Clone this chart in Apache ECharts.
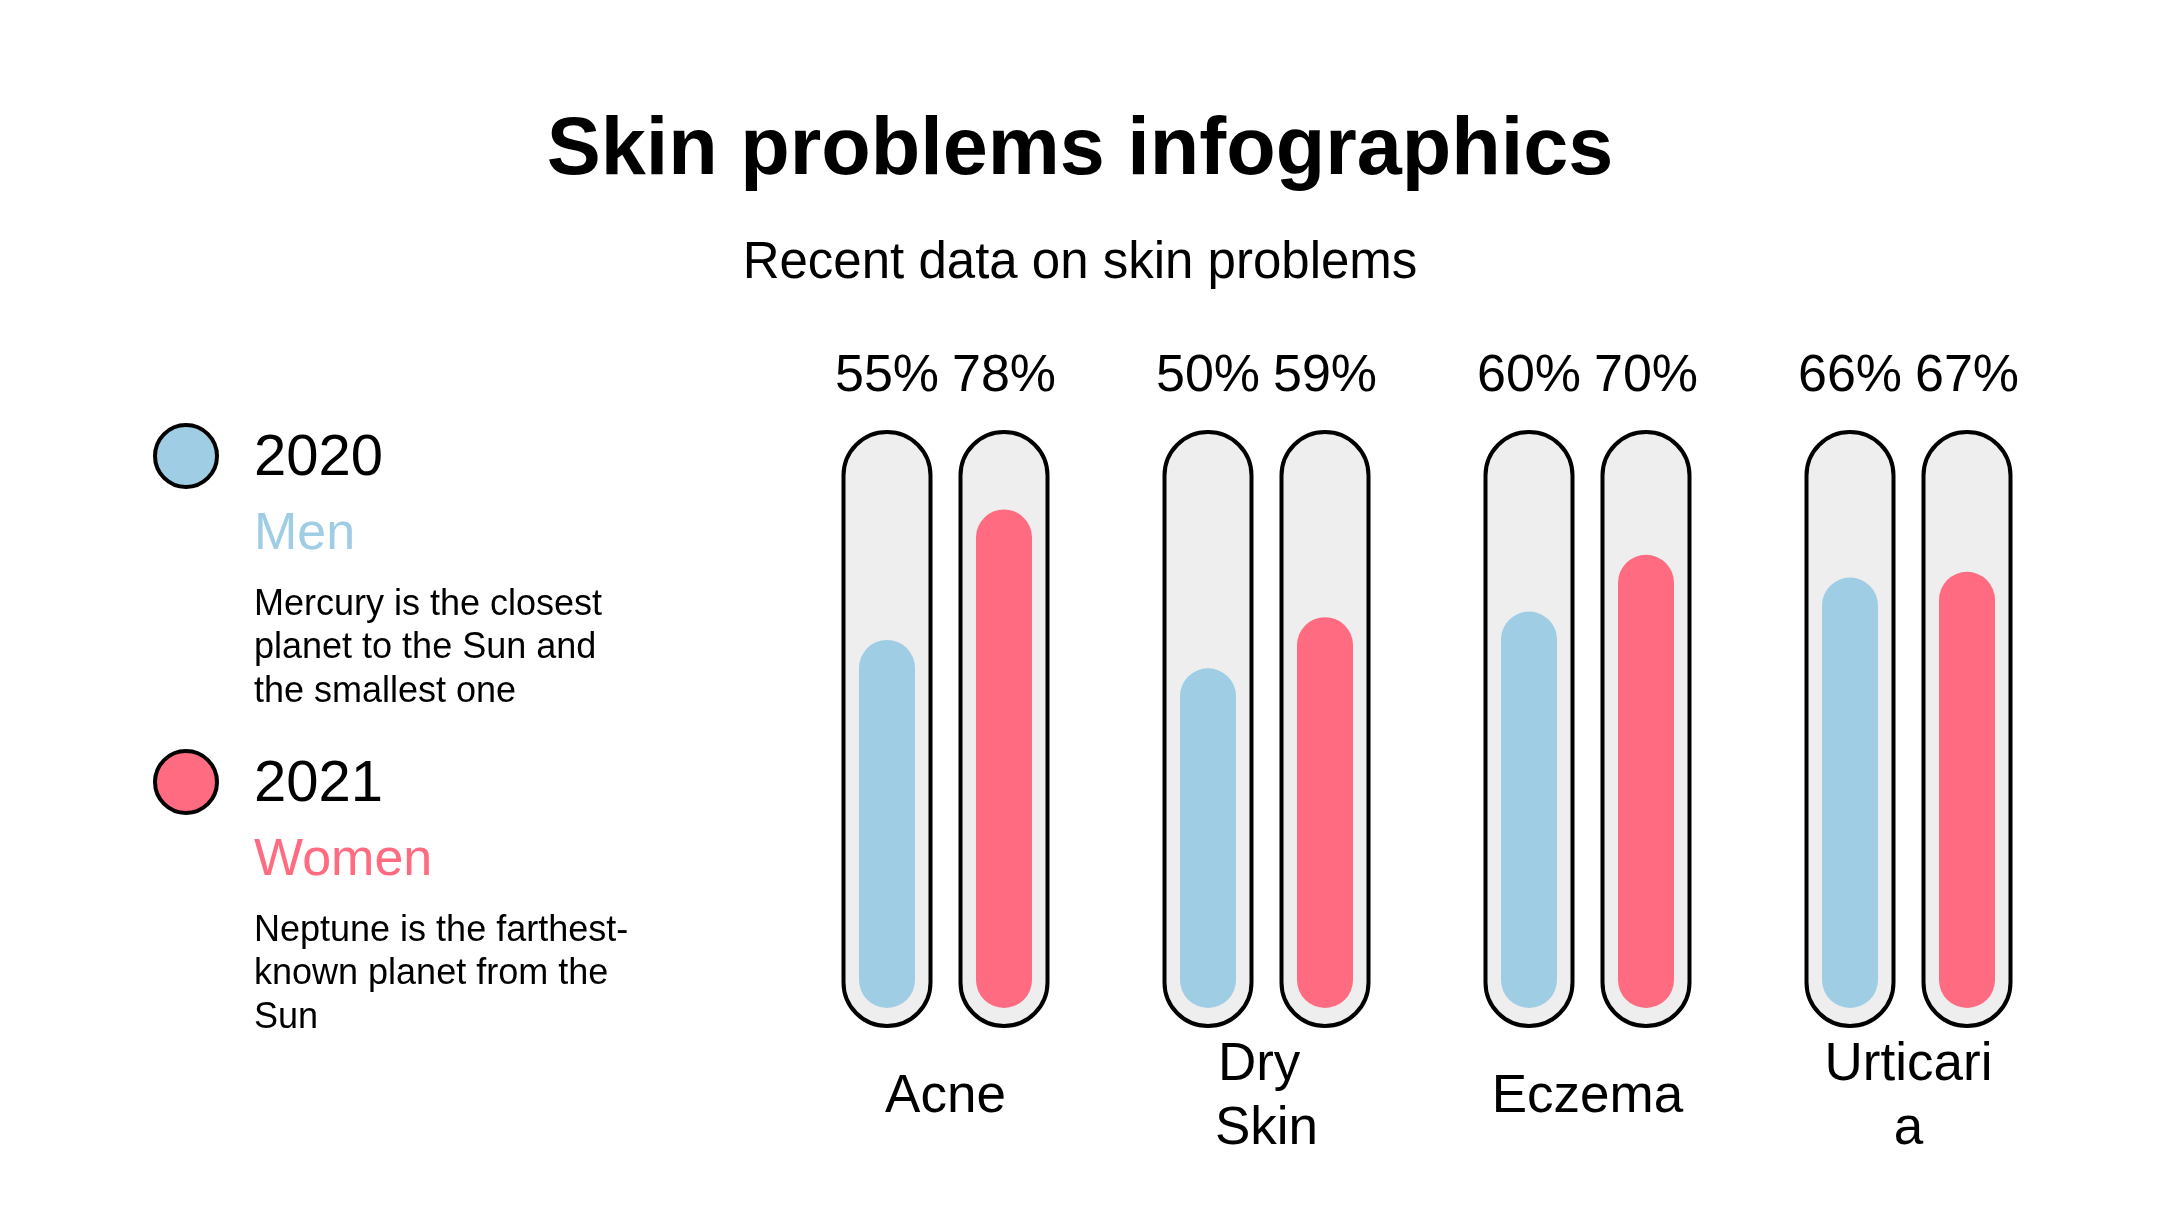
<!DOCTYPE html>
<html>
<head>
<meta charset="utf-8">
<title>Skin problems infographics</title>
<script src="https://cdn.jsdelivr.net/npm/echarts@6/dist/echarts.min.js"></script>
<style>
  html, body { margin: 0; padding: 0; background: #ffffff; }
  #main { width: 2160px; height: 1215px; }
</style>
</head>
<body>
<div id="main"></div>
<script>
var myChart = echarts.init(document.getElementById('main'));

// data
var categories = ['Acne', 'Dry Skin', 'Eczema', 'Urticaria'];
var men2020 = [55, 50, 60, 66];
var women2021 = [78, 59, 70, 67];
var seriesNames = ['2020', '2021'];
var groupNames = ['Men', 'Women'];
var groupNotes = [
  'Mercury is the closest\nplanet to the Sun and\nthe smallest one',
  'Neptune is the farthest-\nknown planet from the\nSun'
];

var font = '"Liberation Sans", Arial, sans-serif';
var blue = '#9fcde3';
var pink = '#ff6b80';
var yMax = 92; // top of the tube

// one tube + filled pill per bar
function tubeRenderer(offset, color) {
  return function (params, api) {
    var cat = api.value(0);
    var v = api.value(1);
    var base = api.coord([cat, 0]);
    var top = api.coord([cat, v]);
    var tubeTop = api.coord([cat, yMax]);
    var x = base[0] + offset;
    var tubeBottom = base[1] + 76;
    return {
      type: 'group',
      children: [
        {
          type: 'rect',
          shape: { x: x - 43.5, y: tubeTop[1] + 2, width: 87, height: tubeBottom - tubeTop[1] - 4, r: 43.5 },
          style: { fill: '#eeeeee', stroke: '#000000', lineWidth: 4 }
        },
        {
          type: 'rect',
          shape: { x: x - 28, y: top[1], width: 56, height: base[1] + 56 - top[1], r: 28 },
          style: { fill: color }
        },
        {
          type: 'text',
          style: {
            text: v + '%', x: x, y: tubeTop[1] - 53,
            align: 'center', verticalAlign: 'middle',
            font: '52px ' + font, fill: '#000000'
          }
        }
      ]
    };
  };
}

function toPoints(values) {
  return values.map(function (v, i) { return [i, v]; });
}

// legend block on the left
var legendColors = [blue, pink];
var legendY = [459, 785];
var graphics = [];
for (var i = 0; i < 2; i++) {
  var cy = legendY[i];
  graphics.push({
    type: 'circle', shape: { cx: 186, cy: cy - 3, r: 31 },
    style: { fill: legendColors[i], stroke: '#000000', lineWidth: 4 }
  });
  graphics.push({
    type: 'text', x: 254, y: cy,
    style: { text: seriesNames[i], font: '58px ' + font, fill: '#000000', verticalAlign: 'middle' }
  });
  graphics.push({
    type: 'text', x: 254, y: cy + 76,
    style: { text: groupNames[i], font: '52px ' + font, fill: legendColors[i], verticalAlign: 'middle' }
  });
  graphics.push({
    type: 'text', x: 254, y: cy + 124,
    style: { text: groupNotes[i], font: '36px ' + font, fill: '#000000', verticalAlign: 'top', lineHeight: 43.5 }
  });
}

myChart.setOption({
  backgroundColor: '#ffffff',
  animation: false,
  title: [
    {
      text: 'Skin problems infographics',
      left: 'center', top: 106,
      textStyle: { fontSize: 81, fontWeight: 'bold', color: '#000000', fontFamily: font }
    },
    {
      text: 'Recent data on skin problems',
      left: 'center', top: 233,
      textStyle: { fontSize: 51, fontWeight: 'normal', color: '#000000', fontFamily: font }
    }
  ],
  graphic: graphics,
  grid: { left: 785, right: 91, top: 430, bottom: 263 },
  xAxis: {
    type: 'category',
    data: categories,
    axisLine: { show: false },
    axisTick: { show: false },
    axisLabel: {
      margin: 145,
      verticalAlign: 'middle',
      width: 194,
      overflow: 'break',
      lineHeight: 64,
      fontSize: 53,
      color: '#000000',
      fontFamily: font
    }
  },
  yAxis: { type: 'value', min: 0, max: yMax, show: false },
  series: [
    {
      name: seriesNames[0],
      type: 'custom',
      renderItem: tubeRenderer(-58.5, blue),
      data: toPoints(men2020)
    },
    {
      name: seriesNames[1],
      type: 'custom',
      renderItem: tubeRenderer(58.5, pink),
      data: toPoints(women2021)
    }
  ]
});
</script>
</body>
</html>
